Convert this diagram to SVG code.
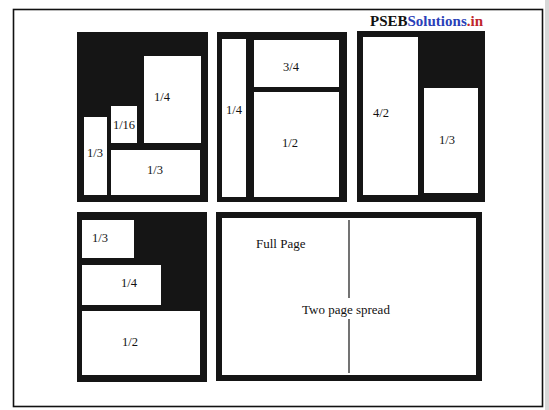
<svg xmlns="http://www.w3.org/2000/svg" width="549" height="410" viewBox="0 0 549 410">
<style>
.panel{fill:#151515}
.box{fill:#ffffff}
.lbl{font-family:"Liberation Serif","Times New Roman",serif;font-size:12.5px;fill:#111;text-anchor:middle}
.big{font-family:"Liberation Serif","Times New Roman",serif;font-size:13px;fill:#111}
.hdr{font-family:"Liberation Serif","DejaVu Serif",serif;font-weight:bold;font-size:15px}
</style>
<rect x="0" y="0" width="549" height="410" fill="#ffffff"/>
<rect x="13.5" y="9.5" width="529" height="397" fill="none" stroke="#111" stroke-width="1.6"/>
<rect x="545" y="0" width="4" height="410" fill="#d8d8d8"/>
<text class="hdr" x="370" y="26" textLength="113" lengthAdjust="spacingAndGlyphs"><tspan fill="#111">PSEB</tspan><tspan fill="#2b3fb8">Solutions</tspan><tspan fill="#c0262b">.in</tspan></text>

<g id="panel1">
<rect class="panel" x="77" y="32" width="131" height="170"/>
<rect class="box" x="144" y="56" width="57" height="87"/>
<rect class="box" x="111" y="106" width="26" height="37"/>
<rect class="box" x="84" y="117" width="23" height="78"/>
<rect class="box" x="111" y="150" width="89" height="45"/>
<text class="lbl" x="162" y="101">1/4</text>
<text class="lbl" x="124" y="129">1/16</text>
<text class="lbl" x="95" y="157">1/3</text>
<text class="lbl" x="155" y="174">1/3</text>
</g>

<g id="panel2">
<rect class="panel" x="217" y="32" width="130" height="170"/>
<rect class="box" x="222" y="39" width="24" height="158"/>
<rect class="box" x="254" y="40" width="85" height="47"/>
<rect class="box" x="254" y="92" width="85" height="105"/>
<text class="lbl" x="234" y="114">1/4</text>
<text class="lbl" x="291" y="71">3/4</text>
<text class="lbl" x="290" y="147">1/2</text>
</g>

<g id="panel3">
<rect class="panel" x="357" y="31" width="128" height="171"/>
<rect class="box" x="363" y="37" width="55" height="158"/>
<rect class="box" x="424" y="88" width="54" height="105"/>
<text class="lbl" x="381" y="117">4/2</text>
<text class="lbl" x="447" y="144">1/3</text>
</g>

<g id="panel4">
<rect class="panel" x="77" y="212" width="130" height="170"/>
<rect class="box" x="82" y="220" width="52" height="38"/>
<rect class="box" x="82" y="265" width="79" height="40"/>
<rect class="box" x="82" y="311" width="118" height="64"/>
<text class="lbl" x="100" y="242">1/3</text>
<text class="lbl" x="129" y="287">1/4</text>
<text class="lbl" x="130" y="346">1/2</text>
</g>

<g id="panel5">
<rect x="219" y="215" width="260" height="163" fill="#ffffff" stroke="#151515" stroke-width="6"/>
<line x1="349" y1="220" x2="349" y2="298" stroke="#151515" stroke-width="1.2"/>
<line x1="349" y1="319" x2="349" y2="373" stroke="#151515" stroke-width="1.2"/>
<text class="big" x="256" y="248">Full Page</text>
<text class="big" x="302" y="314">Two page spread</text>
</g>
</svg>
